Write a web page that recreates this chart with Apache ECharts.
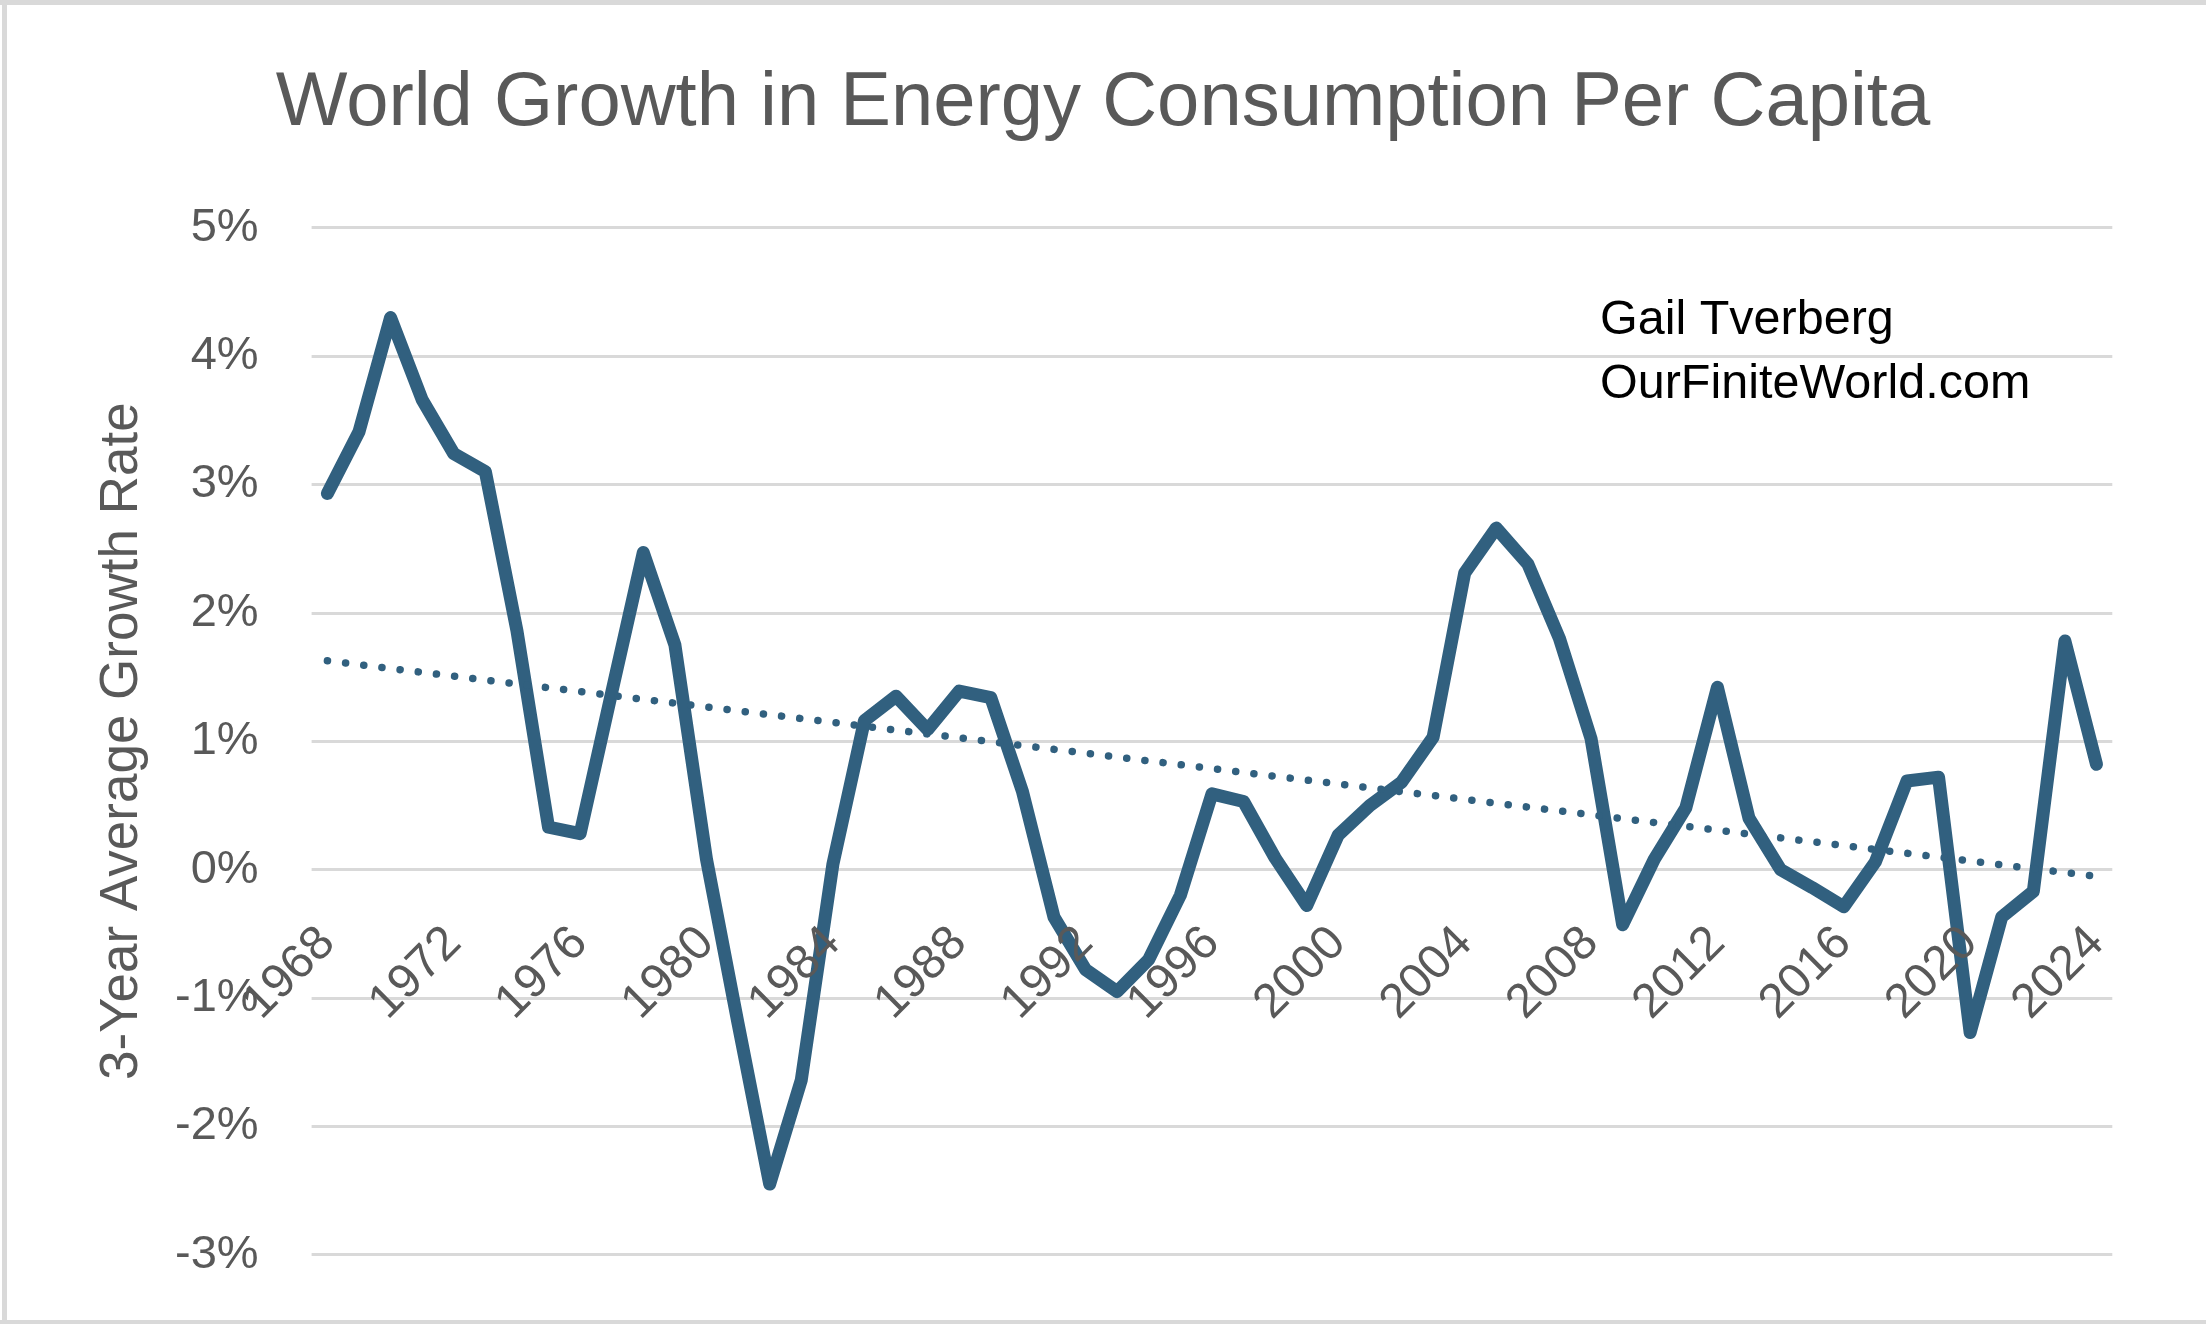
<!DOCTYPE html>
<html>
<head>
<meta charset="utf-8">
<title>World Growth in Energy Consumption Per Capita</title>
<script src="https://cdn.jsdelivr.net/npm/echarts@6/dist/echarts.min.js"></script>
<style>
  html, body { margin: 0; padding: 0; background: #ffffff; }
  #chart { width: 2206px; height: 1324px; }
</style>
</head>
<body>
<div id="chart"></div>
<script>
// years on the category axis
const years = [
  '1968', '1969', '1970', '1971', '1972', '1973', '1974', '1975', '1976', '1977',
  '1978', '1979', '1980', '1981', '1982', '1983', '1984', '1985', '1986', '1987',
  '1988', '1989', '1990', '1991', '1992', '1993', '1994', '1995', '1996', '1997',
  '1998', '1999', '2000', '2001', '2002', '2003', '2004', '2005', '2006', '2007',
  '2008', '2009', '2010', '2011', '2012', '2013', '2014', '2015', '2016', '2017',
  '2018', '2019', '2020', '2021', '2022', '2023', '2024',
]

// 3-year average growth rate, percent
const growthRate = [
  2.93, 3.41, 4.30, 3.66, 3.24, 3.10, 1.86, 0.33, 0.28, 1.38,
  2.47, 1.75, 0.08, -1.20, -2.45, -1.64, 0.04, 1.16, 1.35, 1.09,
  1.39, 1.34, 0.61, -0.37, -0.78, -0.95, -0.70, -0.20, 0.59, 0.53,
  0.09, -0.28, 0.27, 0.50, 0.68, 1.03, 2.31, 2.66, 2.38, 1.80,
  1.02, -0.43, 0.08, 0.48, 1.42, 0.40, 0.00, -0.14, -0.29, 0.06,
  0.69, 0.72, -1.27, -0.37, -0.17, 1.78, 0.82,
]

// value axis range
const yMin = -3
const yMax = 5
const yStep = 1

const LINE_COLOR = '#31607f'
const TEXT_COLOR = '#595959'
const GRID_COLOR = '#d9d9d9'
const BODY_FONT = '"Liberation Sans", Arial, sans-serif'

const GRID = { left: 311.6, right: 93.7, top: 227.7, bottom: 69.3 }
const gridHeight = 1324 - GRID.top - GRID.bottom
// the category labels sit on the 0% line, as in the spreadsheet chart
const zeroOffset = -gridHeight * (0 - yMin) / (yMax - yMin)

// linear trendline (least squares over the category index), like Excel's
const linearTrend = (values) => {
  const n = values.length
  let sx = 0, sy = 0, sxx = 0, sxy = 0
  values.forEach((v, i) => {
    sx += i; sy += v; sxx += i * i; sxy += i * v
  })
  const slope = (n * sxy - sx * sy) / (n * sxx - sx * sx)
  const intercept = (sy - slope * sx) / n
  return values.map((_, i) => +(intercept + slope * i).toFixed(4))
}

const trendData = linearTrend(growthRate)

const chart = echarts.init(document.getElementById('chart'), null, { renderer: 'canvas' })

const option = {
  backgroundColor: '#ffffff',
  animation: false,
  title: {
    text: 'World Growth in Energy Consumption Per Capita',
    left: 'center',
    top: 61,
    textStyle: {
      color: TEXT_COLOR,
      fontFamily: BODY_FONT,
      fontWeight: 'normal',
      fontSize: 76,
    },
  },
  grid: {
    ...GRID,
    containLabel: false,
    outerBoundsMode: 'none',
  },
  xAxis: {
    type: 'category',
    data: years,
    boundaryGap: true,
    offset: zeroOffset,
    z: 10,
    axisLine: { show: false, onZero: false },
    axisTick: { show: false },
    splitLine: { show: false },
    axisLabel: {
      interval: 3,
      rotate: 45,
      margin: 66,
      color: TEXT_COLOR,
      fontFamily: BODY_FONT,
      fontSize: 48,
    },
  },
  yAxis: {
    type: 'value',
    min: yMin,
    max: yMax,
    interval: yStep,
    name: '3-Year Average Growth Rate',
    nameLocation: 'middle',
    nameGap: 163,
    nameTextStyle: {
      color: TEXT_COLOR,
      fontFamily: BODY_FONT,
      fontSize: 53,
    },
    axisLine: { show: false },
    axisTick: { show: false },
    axisLabel: {
      margin: 53,
      color: TEXT_COLOR,
      fontFamily: BODY_FONT,
      fontSize: 47,
      formatter: (v) => `${v}%`,
    },
    splitLine: {
      lineStyle: { color: GRID_COLOR, width: 3 },
    },
  },
  series: [
    {
      name: 'Growth',
      type: 'line',
      data: growthRate,
      showSymbol: false,
      symbol: 'none',
      z: 3,
      lineStyle: {
        color: LINE_COLOR,
        width: 13,
        cap: 'round',
        join: 'round',
      },
    },
    {
      name: 'Linear trend',
      type: 'line',
      data: trendData,
      showSymbol: false,
      symbol: 'none',
      z: 4,
      lineStyle: {
        color: LINE_COLOR,
        width: 7.5,
        type: [0.1, 18.2],
        cap: 'round',
      },
    },
  ],
  graphic: [
    // chart area border (top, left, bottom)
    { type: 'rect', shape: { x: 0, y: 0, width: 2206, height: 5 }, style: { fill: GRID_COLOR }, silent: true },
    { type: 'rect', shape: { x: 2, y: 0, width: 5, height: 1324 }, style: { fill: GRID_COLOR }, silent: true },
    { type: 'rect', shape: { x: 0, y: 1320, width: 2206, height: 4 }, style: { fill: GRID_COLOR }, silent: true },
    {
      type: 'text',
      x: 1600,
      y: 289,
      silent: true,
      style: {
        text: 'Gail Tverberg\nOurFiniteWorld.com',
        fill: '#000000',
        font: `48.5px ${BODY_FONT}`,
        lineHeight: 64,
      },
    },
  ],
}

chart.setOption(option)
</script>
</body>
</html>
